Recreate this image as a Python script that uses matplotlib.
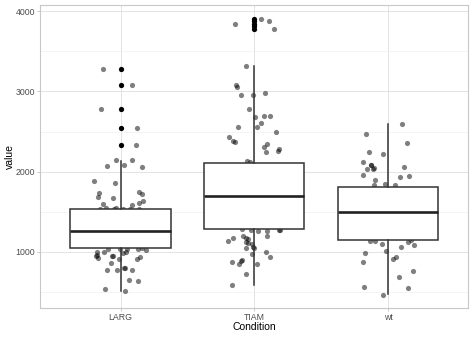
import matplotlib
matplotlib.use('Agg')
import matplotlib.pyplot as plt
from matplotlib.ticker import MultipleLocator

plt.rcParams['font.family'] = ['Liberation Sans', 'DejaVu Sans']

CONDITIONS = ['LARG', 'TIAM', 'wt']

# box statistics
Q1 = [1045, 1286, 1153]
MEDIAN = [1267, 1699, 1501]
Q3 = [1530, 2106, 1811]
WHISK_LO = [515, 590, 472]
WHISK_HI = [2133, 3316, 2588]
OUTLIERS = [
    [3282, 3078, 2776, 2542, 2331],
    [3903, 3875, 3845, 3811, 3779],
    [],
]

# jittered raw points: (offset from category centre, value)
LARG_JIT = [-0.134, 0.085, -0.148, 0.124, 0.117, -0.032, 0.085, -0.099, 0.025, 0.159,
            -0.197, -0.042, -0.158, -0.166, 0.137, 0.161, -0.059, -0.128, 0.139, 0.169,
            0.089, -0.106, -0.037, -0.047, -0.151, 0.018, 0.072, 0.141,
            -0.173, -0.123, -0.180, -0.175, -0.168, -0.064, -0.059, -0.012, 0.040, 0.020,
            -0.002, 0.131, 0.189, 0.159, 0.144, 0.126, -0.071, 0.027, 0.035, -0.104,
            -0.024, 0.089, 0.065, 0.134, -0.116, 0.035, -0.091, 0.050,
            -0.100, 0.060, -0.020, 0.110, -0.150, 0.010]
LARG_VAL = [3282, 3078, 2776, 2544, 2333, 2143, 2147, 2072, 2081, 2056,
            1886, 1857, 1733, 1683, 1742, 1720, 1671, 1600, 1613, 1630,
            1588, 1545, 1550, 1540, 1537, 1537, 1537, 1535,
            996, 996, 945, 958, 930, 950, 945, 913, 1004, 983,
            1034, 1037, 1025, 1046, 934, 913, 867, 805, 800, 780,
            780, 773, 652, 636, 540, 519, 1040, 1042,
            1300, 1200, 1400, 1100, 1450, 1350]

TIAM_JIT = [-0.143, 0.048, 0.111, 0.151, -0.062, -0.136, -0.128, -0.097, -0.007, 0.079,
            -0.039, 0.007, 0.070, 0.117, 0.050, 0.020, -0.119, 0.163, -0.186, -0.156,
            -0.143, 0.092, 0.070, 0.085, 0.174, 0.186, -0.052, -0.032,
            -0.094, -0.024, 0.030, 0.094, 0.183, 0.191, 0.094, -0.195, -0.156, -0.084,
            -0.059, -0.049, -0.059, -0.045, -0.017, -0.007, 0.000, -0.059, -0.015, 0.089,
            0.119, -0.166, -0.114, -0.101, -0.089, 0.022, -0.059, -0.168,
            0.040, -0.120, 0.150, -0.030]
TIAM_VAL = [3845, 3898, 3882, 3783, 3319, 3083, 3054, 2950, 2959, 2975,
            2780, 2686, 2693, 2698, 2602, 2553, 2557, 2499, 2429, 2383,
            2371, 2346, 2304, 2246, 2263, 2280, 2139, 2122,
            1280, 1275, 1255, 1262, 1268, 1275, 1203, 1140, 1174, 1199,
            1178, 1165, 1124, 1112, 1096, 1058, 1046, 1050, 979, 1000,
            942, 872, 847, 892, 901, 851, 727, 586,
            1500, 1700, 1900, 1600]

WT_JIT = [0.106, -0.163, 0.138, -0.144, -0.037, -0.186, -0.131, -0.124, -0.114, -0.104,
          -0.161, 0.121, -0.191, -0.099, 0.091, 0.156, -0.104, -0.020, 0.054,
          -0.134, -0.097, -0.048, 0.146, 0.175, 0.195, 0.099, -0.176, -0.013, 0.037,
          0.057, -0.186, 0.186, 0.084, -0.181, 0.151, -0.040,
          0.050, -0.100, 0.120, -0.160]
WT_VAL = [2590, 2466, 2363, 2251, 2222, 2118, 2089, 2077, 2035, 2047,
          2035, 2064, 1953, 1898, 1932, 1944, 1836, 1848, 1828,
          1133, 1140, 1099, 1128, 1145, 1083, 1062, 988, 1008, 917,
          938, 872, 760, 686, 561, 553, 470,
          1300, 1450, 1600, 1700]

JITTER = [LARG_JIT, TIAM_JIT, WT_JIT]
VALUES = [LARG_VAL, TIAM_VAL, WT_VAL]

fig = plt.figure(figsize=(4.74, 3.38), dpi=100)
ax = fig.add_axes([40.3 / 474, 1 - 308 / 338, 428 / 474, (308 - 5.3) / 338])

for i, (jit, vals) in enumerate(zip(JITTER, VALUES)):
    ax.scatter([i + 1 + j for j in jit], vals, s=14, color='black', alpha=0.5,
               linewidths=0, zorder=2)

stats = []
for i, name in enumerate(CONDITIONS):
    stats.append({'label': name, 'q1': Q1[i], 'med': MEDIAN[i], 'q3': Q3[i],
                  'whislo': WHISK_LO[i], 'whishi': WHISK_HI[i], 'fliers': OUTLIERS[i]})

ax.bxp(stats, positions=[1, 2, 3], widths=0.75, patch_artist=True, showcaps=False,
       boxprops=dict(facecolor='white', edgecolor='#333333', linewidth=1.1),
       whiskerprops=dict(color='#333333', linewidth=1.1),
       medianprops=dict(color='#222222', linewidth=1.9),
       flierprops=dict(marker='o', markerfacecolor='black', markeredgecolor='none',
                       markersize=3.8),
       zorder=3)

ax.set_xlim(0.4, 3.6)
ax.set_ylim(302, 4072)
ax.set_xticks([1, 2, 3])
ax.set_xticklabels(CONDITIONS)
ax.yaxis.set_major_locator(MultipleLocator(1000))
ax.yaxis.set_minor_locator(MultipleLocator(500))

ax.grid(which='major', color='#dedede', linewidth=0.6, zorder=0)
ax.grid(which='minor', axis='y', color='#ececec', linewidth=0.4, zorder=0)
ax.set_axisbelow(True)

for side in ax.spines.values():
    side.set_color('#c8c8c8')
    side.set_linewidth(0.8)

ax.tick_params(which='major', length=2.2, width=0.5, color='#b3b3b3',
               labelsize=6.3, labelcolor='#4d4d4d', pad=1.5)
ax.tick_params(which='minor', length=0)

ax.set_xlabel('Condition', fontsize=7.5)
ax.set_ylabel('value', fontsize=7.5)
ax.xaxis.set_label_coords(0.5, -0.047)
ax.yaxis.set_label_coords(-0.060, 0.5)

fig.savefig('out.png', dpi=100)
